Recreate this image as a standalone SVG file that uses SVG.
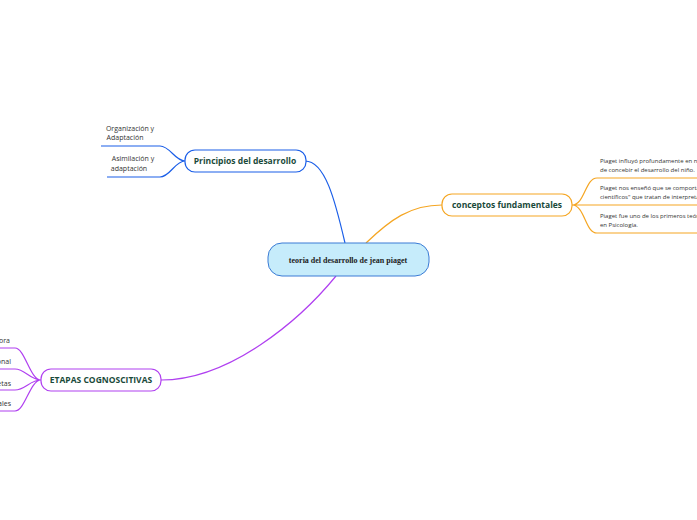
<svg xmlns="http://www.w3.org/2000/svg" width="697" height="520" viewBox="0 0 697 520">
<style>
text{font-family:"Open Sans","Noto Sans",sans-serif;font-size:7px;fill:#333}
.b{font-weight:bold;font-size:8.5px;fill:#1a4a3a}
.c{fill:none;stroke-width:1.2}
</style>
<rect width="697" height="520" fill="#fff"/>
<g id="connectors">
<path class="c" stroke="#1a5ee8" d="M345 243 C335 200 325 161 305 161"/>
<path class="c" stroke="#1a5ee8" d="M185 161 C175 161 170 146 160 146 H101 M185 161 C175 161 170 177 160 177 H107"/>
<path class="c" stroke="#f5a623" d="M366 243 C390 220 410 205 442 205"/>
<path class="c" stroke="#f5a623" d="M572 205 C585 205 585 178 597 178 H697 M572 205 C585 205 585 205 597 205 H697 M572 205 C585 205 585 233 597 233 H697"/>
<path class="c" stroke="#b040f0" d="M336 276 C300 320 230 380 161 380"/>
<path class="c" stroke="#b040f0" d="M41 380 C30 380 25 348 15 348 H0 M41 380 C30 380 25 369 15 369 H0 M41 380 C30 380 25 390 15 390 H0 M41 380 C30 380 25 411 15 411 H0"/>
</g>
<g id="central"><rect x="268" y="243" width="161" height="33" rx="14" fill="#c6ecfb" stroke="#3a7bd5"/><text x="348" y="263" text-anchor="middle" style="font-family:'Liberation Serif',serif;font-weight:bold;font-size:8px;fill:#222">teoria del desarrollo de jean piaget</text></g>
<g id="principios"><rect x="185" y="150" width="121" height="22" rx="10" fill="#fff" stroke="#1a5ee8" stroke-width="1.2"/><text class="b" x="245" y="164" text-anchor="middle">Principios del desarrollo</text></g>
<g id="org"><text x="130" y="131" text-anchor="middle">Organización y</text><text x="125" y="140" text-anchor="middle">Adaptación</text></g>
<g id="asim"><text x="133" y="161" text-anchor="middle">Asimilación y</text><text x="129" y="171" text-anchor="middle">adaptación</text></g>
<g id="conceptos"><rect x="442" y="194" width="130" height="22" rx="10" fill="#fff" stroke="#f5a623" stroke-width="1.2"/><text class="b" x="507" y="208" text-anchor="middle">conceptos fundamentales</text></g>
<g id="c1"><text x="600" y="163" style="font-size:6px">Piaget influyó profundamente en nuestra forma</text><text x="600" y="172" style="font-size:6px">de concebir el desarrollo del niño.</text></g>
<g id="c2"><text x="600" y="190" style="font-size:6px">Piaget nos enseñó que se comportan como "pequeños</text><text x="600" y="199" style="font-size:6px">científicos" que tratan de interpretar el mundo</text></g>
<g id="c3"><text x="600" y="218" style="font-size:6px">Piaget fue uno de los primeros teóricos del constructivismo</text><text x="600" y="227" style="font-size:6px">en Psicología.</text></g>
<g id="etapas"><rect x="41" y="369" width="120" height="22" rx="10" fill="#fff" stroke="#b040f0" stroke-width="1.2"/><text class="b" x="101" y="383" text-anchor="middle">ETAPAS COGNOSCITIVAS</text></g>
<g id="e1"><text x="10" y="343" text-anchor="end">Sensoriomotora</text></g>
<g id="e2"><text x="11" y="364" text-anchor="end">Preoperacional</text></g>
<g id="e3"><text x="11" y="386" text-anchor="end">Operaciones concretas</text></g>
<g id="e4"><text x="11" y="406" text-anchor="end">Operaciones formales</text></g>
</svg>
